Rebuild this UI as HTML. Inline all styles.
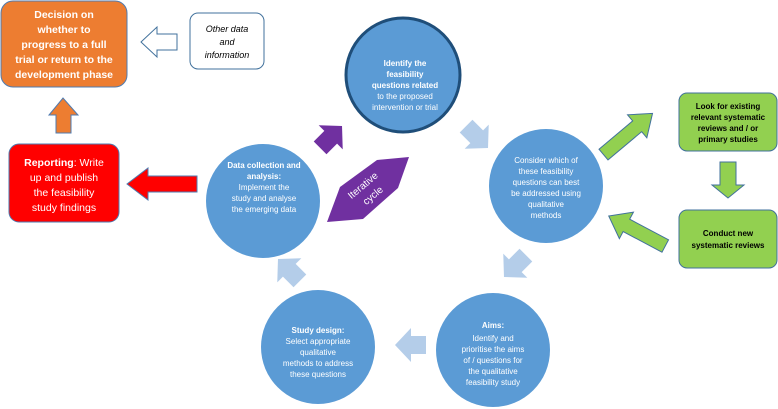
<!DOCTYPE html>
<html><head><meta charset="utf-8"><style>
html,body{margin:0;padding:0;background:#fff;width:778px;height:409px;overflow:hidden}
svg{display:block}
text{font-family:"Liberation Sans",sans-serif;font-weight:bold}
.n{font-weight:normal}
</style></head><body>
<svg width="778" height="409" viewBox="0 0 778 409">
<rect x="1" y="1" width="126" height="86" rx="12" fill="#ed7d31" stroke="#4f7bb0"/>
<g fill="#fff" font-size="10.5" text-anchor="middle">
<text x="64" y="18">Decision on</text>
<text x="64" y="33">whether to</text>
<text x="64" y="48">progress to a full</text>
<text x="64" y="63">trial or return to the</text>
<text x="64" y="78">development phase</text>
</g>
<rect x="190" y="13" width="74" height="56" rx="8" fill="#fff" stroke="#41719c"/>
<g fill="#000" font-size="9" text-anchor="middle" font-style="italic">
<text class="n" x="227" y="32">Other data</text>
<text class="n" x="227" y="45">and</text>
<text class="n" x="227" y="58">information</text>
</g>
<polygon points="177,34 157,34 157,27 141,42 157,57 157,50 177,50" fill="#fff" stroke="#41719c"/>
<polygon points="56,133 56,115 49,115 63,98 78,115 71,115 71,133" fill="#ed7d31" stroke="#4f7bb0"/>
<rect x="9" y="144" width="110" height="78" rx="10" fill="#ff0000" stroke="#4f7bb0"/>
<g fill="#fff" font-size="10.5" text-anchor="middle">
<text x="64" y="166">Reporting<tspan class="n">: Write</tspan></text>
<text class="n" x="64" y="181">up and publish</text>
<text class="n" x="64" y="196">the feasibility</text>
<text class="n" x="64" y="211">study findings</text>
</g>
<polygon points="197,176 148,176 148,168 127,184 148,200 148,192 197,192" fill="#ff0000" stroke="#4f7bb0"/>
<circle cx="263" cy="201" r="57" fill="#5b9bd5"/>
<circle cx="403" cy="75" r="57" fill="#5b9bd5" stroke="#1f4e79" stroke-width="3"/>
<circle cx="546" cy="186" r="57" fill="#5b9bd5"/>
<circle cx="493" cy="350" r="57" fill="#5b9bd5"/>
<circle cx="318" cy="347" r="57" fill="#5b9bd5"/>
<g fill="#fff" font-size="8" text-anchor="middle">
<text x="264" y="168">Data collection and</text>
<text x="264" y="179">analysis:</text>
<text class="n" x="264" y="190">Implement the</text>
<text class="n" x="264" y="201">study and analyse</text>
<text class="n" x="264" y="212">the emerging data</text>
<text x="405" y="66">Identify the</text>
<text x="405" y="77">feasibility</text>
<text x="405" y="88">questions related</text>
<text class="n" x="405" y="99">to the proposed</text>
<text class="n" x="405" y="110">intervention or trial</text>
<text class="n" x="546" y="163">Consider which of</text>
<text class="n" x="546" y="174">these feasibility</text>
<text class="n" x="546" y="185">questions can best</text>
<text class="n" x="546" y="196">be addressed using</text>
<text class="n" x="546" y="207">qualitative</text>
<text class="n" x="546" y="218">methods</text>
<text x="493" y="328">Aims:</text>
<text class="n" x="493" y="341">Identify and</text>
<text class="n" x="493" y="352">prioritise the aims</text>
<text class="n" x="493" y="363">of / questions for</text>
<text class="n" x="493" y="374">the qualitative</text>
<text class="n" x="493" y="385">feasibility study</text>
<text x="318" y="333">Study design:</text>
<text class="n" x="318" y="344">Select appropriate</text>
<text class="n" x="318" y="355">qualitative</text>
<text class="n" x="318" y="366">methods to address</text>
<text class="n" x="318" y="377">these questions</text>
</g>
<polygon points="-14,-9 1,-9 1,-17 17,0 1,17 1,9 -14,9" fill="#7030a0" transform="translate(330,138) rotate(-45)"/>
<polygon points="327,222 340,187 377,160 409,157 398,188 363,219" fill="#7030a0"/>
<text class="n" font-size="10" fill="#fff" transform="translate(365,188) rotate(-40)" text-anchor="middle">Iterative</text>
<text class="n" font-size="10" fill="#fff" transform="translate(375,198) rotate(-40)" text-anchor="middle">cycle</text>
<g fill="#b4cde9">
<polygon points="-14,-9 1,-9 1,-17 17,0 1,17 1,9 -14,9" transform="translate(476,136) rotate(45)"/>
<polygon points="-14,-9 1,-9 1,-17 17,0 1,17 1,9 -14,9" transform="translate(516,265) rotate(135)"/>
<polygon points="-14,-9 1,-9 1,-17 17,0 1,17 1,9 -14,9" transform="translate(412,345) rotate(180)"/>
<polygon points="-14,-9 1,-9 1,-17 17,0 1,17 1,9 -14,9" transform="translate(290,271) rotate(-135)"/>
</g>
<rect x="679" y="93" width="98" height="58" rx="8" fill="#92d050" stroke="#41719c"/>
<rect x="679" y="210" width="98" height="58" rx="8" fill="#92d050" stroke="#41719c"/>
<g fill="#000" font-size="8" text-anchor="middle">
<text x="728" y="109">Look for existing</text>
<text x="728" y="120">relevant systematic</text>
<text x="728" y="131">reviews and / or</text>
<text x="728" y="142">primary studies</text>
<text x="728" y="236">Conduct new</text>
<text x="728" y="248">systematic reviews</text>
</g>
<polygon points="-32,-7 12,-7 12,-15 32,0 12,15 12,7 -32,7" fill="#92d050" stroke="#41719c" transform="translate(628,134) rotate(-40)"/>
<polygon points="720,162 736,162 736,185 744,185 728,198 712,185 720,185" fill="#92d050" stroke="#41719c"/>
<polygon points="-32,-7 12,-7 12,-15 32,0 12,15 12,7 -32,7" fill="#92d050" stroke="#41719c" transform="translate(637,231) rotate(208)"/>
</svg>
</body></html>
